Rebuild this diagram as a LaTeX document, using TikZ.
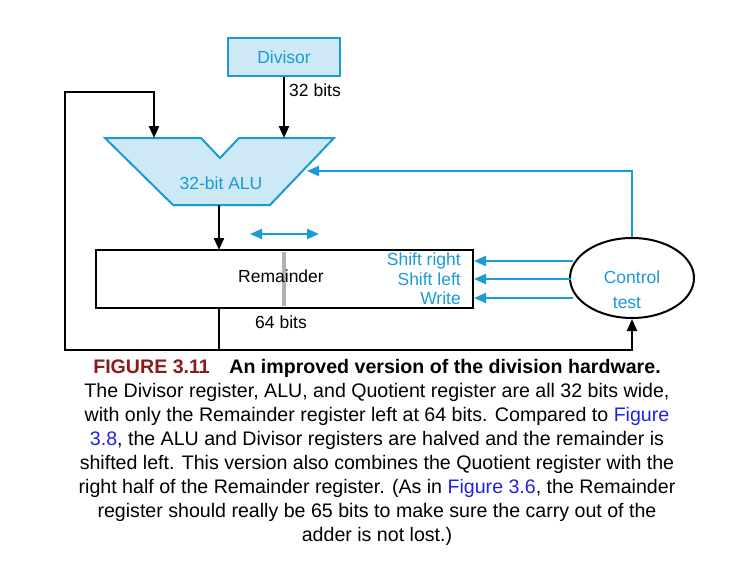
\documentclass[tikz,border=0pt]{standalone}
\usepackage{fontspec}
\setmainfont{Liberation Sans}
\usetikzlibrary{arrows.meta,shapes.geometric}
\definecolor{cblue}{HTML}{1A9AD6}
\definecolor{cfill}{HTML}{CDE9F6}
\definecolor{cred}{HTML}{8B1A1A}
\definecolor{clink}{HTML}{2222DD}
\begin{document}
\begin{tikzpicture}[x=1pt,y=-1pt,
  blk/.style={draw=black,line width=2.2pt},
  blu/.style={draw=cblue,line width=2pt},
  arr/.style={-{Triangle[length=12pt,width=10pt]}},
  lbl/.style={font=\fontsize{17.5}{19}\selectfont,inner sep=0pt}]
\useasboundingbox (0,0) rectangle (732,576);
\node[draw=cblue,fill=cfill,line width=2pt,minimum width=112pt,minimum height=38pt,inner sep=0pt,text=cblue,font=\fontsize{17.5}{19}\selectfont] (div) at (284,57) {Divisor};
\draw[blu,fill=cfill] (105,138) -- (201,138) -- (220,158) -- (239,138) -- (334,138) -- (270,205) -- (173,205) -- cycle;
\node[lbl,text=cblue] (alu) at (221,183) {32-bit ALU};
\coordinate (aluL) at (154,138);
\coordinate (aluR) at (284,138);
\coordinate (aluIn) at (307,171);
\node[draw=black,line width=2pt,minimum width=377pt,minimum height=58pt,inner sep=0pt] (rem) at (284.5,279) {};
\draw[gray!60,line width=4pt] (284,252) -- (284,306);
\node[lbl] (remt) at (281,276) {Remainder};
\node[lbl,text=cblue,anchor=east] (sr) at (461,261) {Shift right};
\node[lbl,text=cblue,anchor=east] (sl) at (461,279) {Shift left};
\node[lbl,text=cblue,anchor=east] (wr) at (461,298) {Write};
\node[draw=black,line width=2pt,ellipse,minimum width=124pt,minimum height=80pt,inner sep=0pt] (ctl) at (632,278) {};
\node[lbl,text=cblue] (ctlt) at (632,277) {Control};
\node[lbl,text=cblue] (test) at (627,303) {test};
\node[lbl] (b32) at (315,90) {32 bits};
\node[lbl] (b64) at (281,322) {64 bits};
\draw[blk,arr] (div.south) -- (aluR);
\coordinate (aluOut) at (219,205);
\coordinate (remIn) at (219,250);
\draw[blk,arr] (aluOut) -- (remIn);
\coordinate (remOut) at (219,308);
\draw[blk,arr] (remOut) -- (219,350) -- (65,350) -- (65,92) -- (154,92) -- (aluL);
\draw[blk,arr] (219,350) -- (632,350) -- (ctl.south);
\draw[blu,arr] (ctl.north) -- (632,171) -- (aluIn);
\draw[blu,arr] (573,261) -- (474,261);
\draw[blu,arr] (571,279) -- (474,279);
\draw[blu,arr] (573,298) -- (474,298);
\draw[blu,{Triangle[length=12pt,width=10pt]}-{Triangle[length=12pt,width=10pt]}] (250,234) -- (319,234);
\node[align=center,font=\fontsize{19.6}{24}\selectfont,inner sep=0pt,anchor=north] (cap) at (377,359)
{\textbf{\color{cred}FIGURE 3.11}\quad\textbf{An improved version of the division hardware.}\\
The Divisor register, ALU, and Quotient register are all 32 bits wide,\\
with only the Remainder register left at 64 bits. Compared to {\color{clink}Figure}\\
{\color{clink}3.8}, the ALU and Divisor registers are halved and the remainder is\\
shifted left. This version also combines the Quotient register with the\\
right half of the Remainder register. (As in {\color{clink}Figure 3.6}, the Remainder\\
register should really be 65 bits to make sure the carry out of the\\
adder is not lost.)};
\end{tikzpicture}
\end{document}
